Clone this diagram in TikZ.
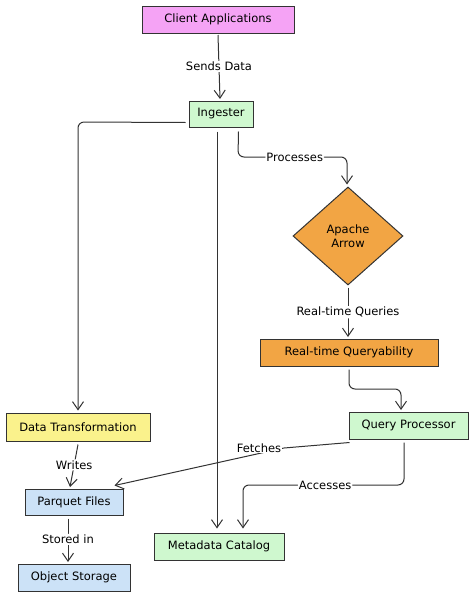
\documentclass[tikz,border=0pt]{standalone}
\usepackage{fontspec}
\setmainfont{DejaVu Sans}
\usetikzlibrary{shapes.geometric,arrows.meta,calc}
\definecolor{cpink}{HTML}{F5A3F5}
\definecolor{cgreen}{HTML}{CFF8CF}
\definecolor{corange}{HTML}{F2A544}
\definecolor{cyellow}{HTML}{FAF28C}
\definecolor{cblue}{HTML}{CCE2F7}
\definecolor{cline}{HTML}{333333}
\tikzset{
  box/.style={draw=cline, line width=1pt, rectangle, inner sep=0pt, font=\fontsize{11.5}{14}\selectfont, text=black},
  dia/.style={draw=cline, line width=1pt, diamond, inner sep=0pt, fill=corange, font=\fontsize{11.5}{14}\selectfont, align=center},
  link/.style={draw=cline, line width=1pt, rounded corners=6pt, -{Straight Barb[length=8pt,width=11pt,line width=1pt]}},
  lbl/.style={fill=white, inner sep=1pt, font=\fontsize{11.5}{14}\selectfont, text=black},
}
\begin{document}
\begin{tikzpicture}[x=1pt,y=-1pt]
\useasboundingbox (0,0) rectangle (474,597);
\fill[white] (0,0) rectangle (474,597);
% nodes
\node[box, fill=cpink, minimum width=152pt, minimum height=27pt] (client) at (218,19.5) {Client Applications};
\node[box, fill=cgreen, minimum width=64pt, minimum height=26pt] (ing) at (221,114) {Ingester};
\node[dia, minimum width=110pt, minimum height=98pt] (arrow) at (348,236) {Apache\\Arrow};
\node[box, fill=corange, minimum width=178pt, minimum height=27pt] (rtq) at (349,352.5) {Real-time Queryability};
\node[box, fill=cgreen, minimum width=119pt, minimum height=27pt] (qp) at (408.5,425.5) {Query Processor};
\node[box, fill=cyellow, minimum width=144pt, minimum height=28pt] (dt) at (78,427) {Data Transformation};
\node[box, fill=cblue, minimum width=98pt, minimum height=26pt] (pq) at (74,502) {Parquet Files};
\node[box, fill=cblue, minimum width=112pt, minimum height=27pt] (os) at (74,577.5) {Object Storage};
\node[box, fill=cgreen, minimum width=130pt, minimum height=27pt] (meta) at (219,546.5) {Metadata Catalog};
% coordinates
\coordinate (c1) at ($(client.south)+(0,1.5)$);
\coordinate (i0) at ($(ing.north)+(-1,-1.5)$);
\coordinate (i1) at ($(ing.south west)+(-3,-5)$);
\coordinate (d0) at ($(dt.north)+(0,-2)$);
\coordinate (i2) at ($(ing.south)+(-4,4)$);
\coordinate (m0) at ($(meta.north)+(-2,-4)$);
\coordinate (i3) at ($(ing.south east)+(-15,4)$);
\coordinate (a0) at ($(arrow.north)+(-1,-2)$);
\coordinate (a1) at ($(arrow.south)+(0,2)$);
\coordinate (r0) at ($(rtq.north)+(-1,-1.5)$);
\coordinate (r1) at ($(rtq.south)+(0,3)$);
\coordinate (q0) at ($(qp.north)+(-7.5,-1.5)$);
\coordinate (d1) at ($(dt.south)+(0,3)$);
\coordinate (p0) at ($(pq.north)+(-4,-1.5)$);
\coordinate (p1) at ($(pq.south)+(-6,3)$);
\coordinate (o0) at ($(os.north)+(-6,-1.5)$);
\coordinate (q1) at ($(qp.south west)+(1,3)$);
\coordinate (p2) at ($(pq.north east)+(-9,-3)$);
\coordinate (q2) at ($(qp.south)+(-4.5,3)$);
\coordinate (m1) at ($(meta.north)+(24,-4)$);
% edges
\draw[link] (c1) -- (i0) node[lbl, pos=0.49] {Sends Data};
\draw[link] (i1) -- (78,122) -- (d0);
\draw[link] (i2) -- (m0);
\draw[link] (i3) -- (238,157) -- node[lbl, pos=0.52] {Processes} (347,157) -- (a0);
\draw[link] (a1) -- (r0) node[lbl, pos=0.5] {Real-time Queries};
\draw[link] (r1) -- (349,389) -- (401,389) -- (q0);
\draw[link] (d1) -- (p0) node[lbl, pos=0.48] {Writes};
\draw[link] (p1) -- (o0) node[lbl, pos=0.48] {Stored in};
\draw[link, rounded corners=0pt] (q1) -- (284,448) node[lbl, pos=1, xshift=-25pt] {Fetches} -- (p2);
\draw[link] (q2) -- (404,485) -- node[lbl, pos=0.49] {Accesses} (243,485) -- (m1);
\end{tikzpicture}
\end{document}
